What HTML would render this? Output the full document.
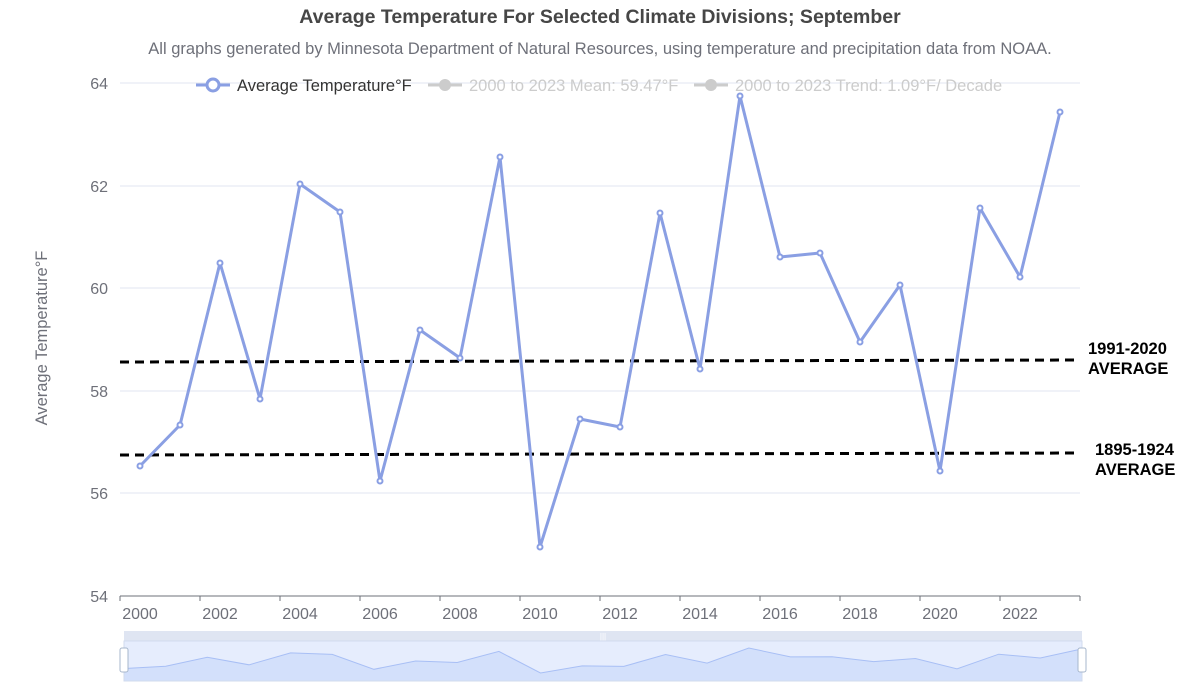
<!DOCTYPE html>
<html><head><meta charset="utf-8"><style>
body{margin:0;background:#fff;width:1200px;height:692px;overflow:hidden}
svg text{font-family:"Liberation Sans",Arial,sans-serif}
</style></head><body>
<svg width="1200" height="692" viewBox="0 0 1200 692">
<text x="600" y="23" text-anchor="middle" font-size="19.5" font-weight="bold" fill="#464646">Average Temperature For Selected Climate Divisions; September</text>
<text x="600" y="54" text-anchor="middle" font-size="16.5" fill="#6e7079">All graphs generated by Minnesota Department of Natural Resources, using temperature and precipitation data from NOAA.</text>
<g stroke="#e0e6f1" stroke-width="1">
<line x1="120" y1="83" x2="1080" y2="83"/><line x1="120" y1="186" x2="1080" y2="186"/><line x1="120" y1="288" x2="1080" y2="288"/><line x1="120" y1="391" x2="1080" y2="391"/><line x1="120" y1="493" x2="1080" y2="493"/>
</g>
<line x1="120" y1="596" x2="1080" y2="596" stroke="#6e7079"/>
<g stroke="#6e7079"><line x1="120" y1="596" x2="120" y2="601"/><line x1="200" y1="596" x2="200" y2="601"/><line x1="280" y1="596" x2="280" y2="601"/><line x1="360" y1="596" x2="360" y2="601"/><line x1="440" y1="596" x2="440" y2="601"/><line x1="520" y1="596" x2="520" y2="601"/><line x1="600" y1="596" x2="600" y2="601"/><line x1="680" y1="596" x2="680" y2="601"/><line x1="760" y1="596" x2="760" y2="601"/><line x1="840" y1="596" x2="840" y2="601"/><line x1="920" y1="596" x2="920" y2="601"/><line x1="1000" y1="596" x2="1000" y2="601"/><line x1="1080" y1="596" x2="1080" y2="601"/></g>
<g font-size="16" fill="#6e7079" text-anchor="end">
<text x="108" y="89">64</text><text x="108" y="192">62</text><text x="108" y="294">60</text><text x="108" y="397">58</text><text x="108" y="499">56</text><text x="108" y="602">54</text>
</g>
<g font-size="16" fill="#6e7079" text-anchor="middle">
<text x="140" y="619">2000</text><text x="220" y="619">2002</text><text x="300" y="619">2004</text><text x="380" y="619">2006</text><text x="460" y="619">2008</text><text x="540" y="619">2010</text><text x="620" y="619">2012</text><text x="700" y="619">2014</text><text x="780" y="619">2016</text><text x="860" y="619">2018</text><text x="940" y="619">2020</text><text x="1020" y="619">2022</text>
</g>
<text transform="translate(47,338) rotate(-90)" text-anchor="middle" font-size="16.5" fill="#6e7079">Average Temperature°F</text>
<!-- legend -->
<line x1="196" y1="85" x2="230" y2="85" stroke="#8a9fe3" stroke-width="3"/>
<circle cx="213" cy="85" r="6" fill="#fff" stroke="#8a9fe3" stroke-width="3"/>
<text x="237" y="91" font-size="16.5" fill="#333">Average Temperature°F</text>
<line x1="428" y1="85" x2="462" y2="85" stroke="#ccc" stroke-width="3"/>
<circle cx="445" cy="85" r="6" fill="#ccc"/>
<text x="469" y="91" font-size="16.5" fill="#ccc">2000 to 2023 Mean: 59.47°F</text>
<line x1="694" y1="85" x2="728" y2="85" stroke="#ccc" stroke-width="3"/>
<circle cx="711" cy="85" r="6" fill="#ccc"/>
<text x="735" y="91" font-size="16.5" fill="#ccc">2000 to 2023 Trend: 1.09°F/ Decade</text>
<!-- dashed -->
<line x1="120" y1="362" x2="1080" y2="360" stroke="#000" stroke-width="3" stroke-dasharray="9,6"/>
<line x1="120" y1="455" x2="1080" y2="453" stroke="#000" stroke-width="3" stroke-dasharray="9,6"/>
<g font-size="16.5" font-weight="bold" fill="#000">
<text x="1088" y="354">1991-2020</text><text x="1088" y="374">AVERAGE</text>
<text x="1095" y="455">1895-1924</text><text x="1095" y="475">AVERAGE</text>
</g>
<polyline fill="none" stroke="#8a9fe3" stroke-width="3" stroke-linejoin="round" points="140,466 180,425 220,263 260,399 300,184 340,212 380,481 420,330 460,358 500,157 540,547 580,419 620,427 660,213 700,369 740,96 780,257 820,253 860,342 900,285 940,471 980,208 1020,277 1060,112"/>
<g fill="#fff" stroke="#8a9fe3" stroke-width="2">
<circle cx="140" cy="466" r="2.5"/><circle cx="180" cy="425" r="2.5"/><circle cx="220" cy="263" r="2.5"/><circle cx="260" cy="399" r="2.5"/><circle cx="300" cy="184" r="2.5"/><circle cx="340" cy="212" r="2.5"/><circle cx="380" cy="481" r="2.5"/><circle cx="420" cy="330" r="2.5"/><circle cx="460" cy="358" r="2.5"/><circle cx="500" cy="157" r="2.5"/><circle cx="540" cy="547" r="2.5"/><circle cx="580" cy="419" r="2.5"/><circle cx="620" cy="427" r="2.5"/><circle cx="660" cy="213" r="2.5"/><circle cx="700" cy="369" r="2.5"/><circle cx="740" cy="96" r="2.5"/><circle cx="780" cy="257" r="2.5"/><circle cx="820" cy="253" r="2.5"/><circle cx="860" cy="342" r="2.5"/><circle cx="900" cy="285" r="2.5"/><circle cx="940" cy="471" r="2.5"/><circle cx="980" cy="208" r="2.5"/><circle cx="1020" cy="277" r="2.5"/><circle cx="1060" cy="112" r="2.5"/>
</g>
<!-- data zoom -->
<rect x="124" y="631" width="958" height="10" fill="#dfe5f2"/>
<rect x="124" y="641" width="958" height="40" fill="#e6edfd"/>
<text x="603" y="639" text-anchor="middle" font-size="8" fill="#fff">|||</text>
<polygon fill="#d3e0fb" stroke="none" points="124,681 124,668.5 165.7,666.2 207.3,657.3 249,664.8 290.6,652.9 332.3,654.4 373.9,669.3 415.6,661 457.2,662.5 498.9,651.4 540.5,673 582.2,665.9 623.8,666.4 665.5,654.5 707.1,663.1 748.8,648 790.4,656.9 832.1,656.7 873.7,661.6 915.4,658.5 957,668.8 998.7,654.2 1040.3,658 1082,648.9 1082,681"/>
<polyline fill="none" stroke="#a8bff5" stroke-width="1" points="124,668.5 165.7,666.2 207.3,657.3 249,664.8 290.6,652.9 332.3,654.4 373.9,669.3 415.6,661 457.2,662.5 498.9,651.4 540.5,673 582.2,665.9 623.8,666.4 665.5,654.5 707.1,663.1 748.8,648 790.4,656.9 832.1,656.7 873.7,661.6 915.4,658.5 957,668.8 998.7,654.2 1040.3,658 1082,648.9"/>
<rect x="124" y="641" width="958" height="40" fill="none" stroke="#d2dbee"/>
<rect x="120" y="648" width="8" height="24" rx="2" fill="#fff" stroke="#a7b7cc"/>
<rect x="1078" y="648" width="8" height="24" rx="2" fill="#fff" stroke="#a7b7cc"/>
</svg>
</body></html>
